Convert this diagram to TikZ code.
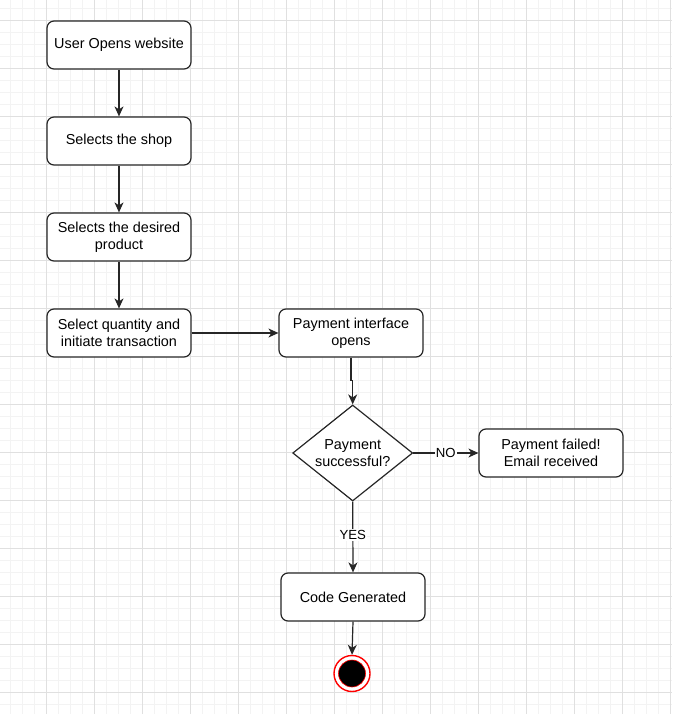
\documentclass[tikz,border=0pt]{standalone}
\usepackage{fontspec}
\setmainfont{Liberation Sans}
\usetikzlibrary{arrows.meta,shapes.geometric}
\definecolor{gridmajor}{HTML}{E0E0E0}
\definecolor{gridminor}{HTML}{F3F3F3}
\definecolor{strokec}{HTML}{262626}
\begin{document}
\begin{tikzpicture}[x=1pt,y=-1pt,
  box/.style={draw=strokec,line width=1.2pt,rounded corners=7pt,minimum width=144pt,minimum height=48pt,align=center,font=\fontsize{14.4}{17}\selectfont,fill=white,inner sep=0pt},
  dec/.style={diamond,draw=strokec,line width=1.2pt,minimum width=120pt,minimum height=96pt,aspect=1.25,align=center,font=\fontsize{14.4}{17}\selectfont,fill=white,inner sep=0pt},
  arr/.style={draw=strokec,line width=1.2pt,-{Stealth[length=10pt,width=9pt,inset=3pt]}},
  lbl/.style={fill=white,inner sep=1pt,font=\fontsize{13.2}{15}\selectfont},
  minorline/.style={draw=gridminor,line width=1pt},
  majorline/.style={draw=gridmajor,line width=1pt}]
\useasboundingbox (0,0) rectangle (672,714);
\fill[white] (0,0) rectangle (672,714);
% grid
\foreach \i in {0,...,55} \draw[minorline] (10.7+12*\i,0) -- (10.7+12*\i,714);
\foreach \j in {0,...,58} \draw[minorline] (0,8.7+12*\j) -- (672,8.7+12*\j);
\foreach \i in {0,...,13} \draw[majorline] (46.7+48*\i,0) -- (46.7+48*\i,714);
\foreach \j in {0,...,14} \draw[majorline] (0,20.7+48*\j) -- (672,20.7+48*\j);
% nodes
\node[box] (b1) at (119,45) {User Opens website};
\node[box] (b2) at (119,141) {Selects the shop};
\node[box] (b3) at (119,237) {Selects the desired\\product};
\node[box] (b4) at (119,333) {Select quantity and\\initiate transaction};
\node[box] (b5) at (351,333) {Payment interface\\opens};
\node[dec] (dec) at (352.7,453) {Payment\\successful?};
\node[box] (fail) at (551,453) {Payment failed!\\Email received};
\node[box] (code) at (353,597) {Code Generated};
\node[circle,draw=red,line width=1.4pt,minimum size=36pt,fill=white,inner sep=0pt] (endc) at (352,673.5) {};
\node[circle,fill=black,draw=red,line width=0.6pt,minimum size=27pt,inner sep=0pt] (endin) at (endc.center) {};
% edges
\draw[arr] (b1.south) -- (b2.north);
\draw[arr] (b2.south) -- (b3.north);
\draw[arr] (b3.south) -- (b4.north);
\draw[arr] (b4.east) -- (b5.west);
\draw[arr] (b5.south) -- ++(0,23) -| (dec.north);
\draw[arr] (dec.east) -- node[lbl]{NO} (fail.west);
\draw[arr] (dec.south) -- node[lbl,pos=0.47]{YES} (code.north);
\draw[arr] (code.south) -- (endc.north);
\end{tikzpicture}
\end{document}
